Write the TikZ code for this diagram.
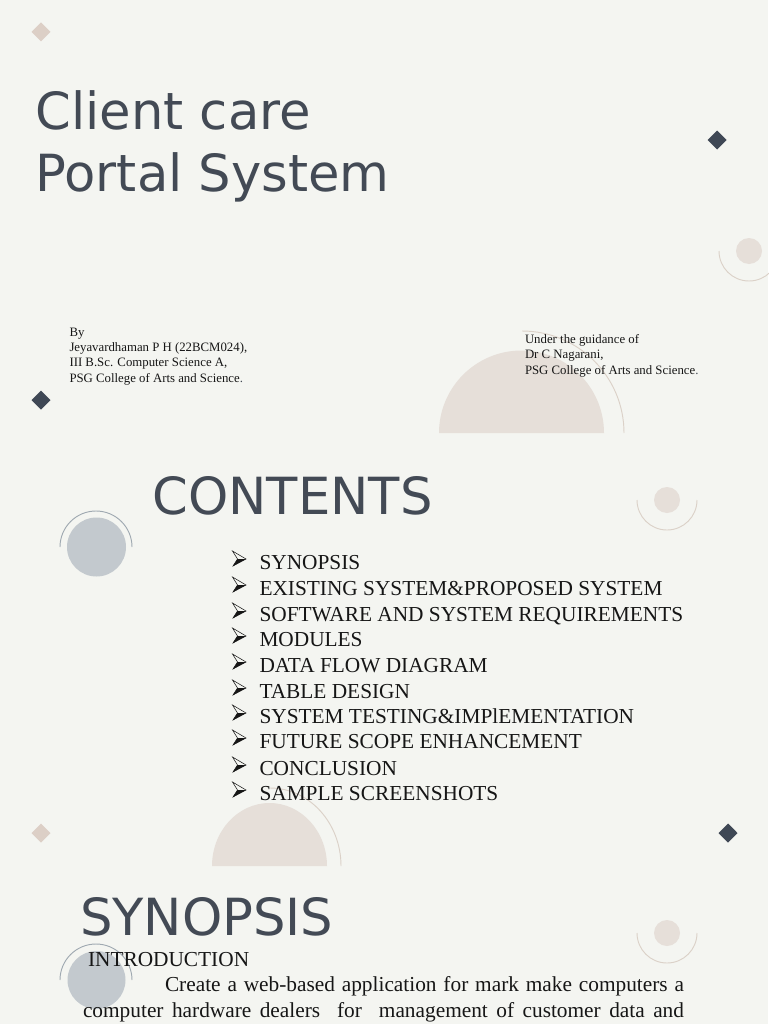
\documentclass[tikz,border=0pt]{standalone}
\usepackage{fontspec}
\setmainfont{Liberation Serif}
\newfontfamily\titlefont{DejaVu Sans}
\definecolor{bgc}{HTML}{F4F5F1}
\definecolor{ink}{HTML}{434A55}
\definecolor{beigefill}{HTML}{E6DFD9}
\definecolor{beigediamond}{HTML}{DCCFC6}
\definecolor{beigearc}{HTML}{DBD1C8}
\definecolor{darkdiamond}{HTML}{3F4855}
\definecolor{greyfill}{HTML}{C3C9CE}
\definecolor{greyarc}{HTML}{9FA9B1}
\definecolor{bodyink}{HTML}{161616}
\tikzset{
  x=0.75pt,y=-0.75pt,
  txt/.style={anchor=base west,inner sep=0pt,outer sep=0pt},
  titletxt/.style={txt,text=ink,font=\titlefont\fontsize{38.4}{38.4}\selectfont},
  smalltxt/.style={txt,text=bodyink,font=\fontsize{9.6}{11}\selectfont},
  listtxt/.style={txt,text=bodyink,font=\fontsize{16}{18}\selectfont},
  bodytxt/.style={txt,text=bodyink,font=\fontsize{16}{18}\selectfont},
  thinbeige/.style={draw=beigearc,line width=0.7pt},
  thingrey/.style={draw=greyarc,line width=0.7pt},
}
\newcommand{\diam}[3]{\fill[#3] (#1-9.5,#2) -- (#1,#2-9.5) -- (#1+9.5,#2) -- (#1,#2+9.5) -- cycle;}
\begin{document}
\begin{tikzpicture}
\useasboundingbox (0,0) rectangle (768,1024);
\fill[bgc] (0,0) rectangle (768,1024);
\diam{41}{32}{beigediamond}
\diam{717}{140}{darkdiamond}
\diam{41}{400}{darkdiamond}
\diam{41}{833}{beigediamond}
\diam{728}{833}{darkdiamond}
% decorative shapes
\fill[beigefill] (749,251) circle[radius=13];
\draw[thinbeige] (719,251) arc[start angle=180,end angle=0,radius=30];
\fill[beigefill] (439,433) arc[start angle=180,end angle=360,radius=82.5] -- cycle;
\draw[thinbeige] (522,331) arc[start angle=270,end angle=360,radius=102];
\fill[beigefill] (667,500) circle[radius=13];
\draw[thinbeige] (637,500) arc[start angle=180,end angle=0,radius=30];
\fill[greyfill] (96.5,547) circle[radius=29.5];
\draw[thingrey] (60,547) arc[start angle=180,end angle=360,radius=36];
\fill[beigefill] (212,866) arc[start angle=180,end angle=360,x radius=57.5,y radius=63] -- cycle;
\draw[thinbeige] (270,788) arc[start angle=270,end angle=360,x radius=71,y radius=78];
\fill[beigefill] (667,933) circle[radius=13];
\draw[thinbeige] (637,933) arc[start angle=180,end angle=0,radius=30];
\fill[greyfill] (96.5,980) circle[radius=29];
\draw[thingrey] (60,980) arc[start angle=180,end angle=360,radius=36];
% titles
\node[titletxt] (t1) at (35.5,129) {Client care};
\node[titletxt] (t2) at (35.5,191) {Portal System};
\node[titletxt] (t3) at (152.5,514.5) {CONTENTS};
\node[titletxt] (t4) at (80,935) {SYNOPSIS};
% by
\node[smalltxt] (by1) at (69.5,336) {By};
\node[smalltxt] (by2) at (69.5,351) {Jeyavardhaman P H (22BCM024),};
\node[smalltxt] (by3) at (69.5,366) {III B.Sc. Computer Science A,};
\node[smalltxt] (by4) at (69.5,382) {PSG College of Arts and Science\textcolor{ink}{.}};
\node[smalltxt] (g1) at (525,343) {Under the guidance of};
\node[smalltxt] (g2) at (525,358) {Dr C Nagarani,};
\node[smalltxt] (g3) at (525,374) {PSG College of Arts and Science\textcolor{ink}{.}};
% list
\foreach \yy/\lbl [count=\i] in {569/SYNOPSIS,595/EXISTING SYSTEM\&PROPOSED SYSTEM,621/SOFTWARE AND SYSTEM REQUIREMENTS,646/MODULES,672/DATA FLOW DIAGRAM,698/TABLE DESIGN,723/SYSTEM TESTING\&IMPlEMENTATION,748/FUTURE SCOPE ENHANCEMENT,775/CONCLUSION,800/SAMPLE SCREENSHOTS}{
  \node[listtxt] (li\i) at (259.5,\yy) {\lbl};
  \fill[bodyink] (246,\yy-10) -- (233,\yy-3) -- (237.5,\yy-10) -- cycle;
  \draw[bodyink,line width=0.4pt,line join=miter] (246,\yy-10) -- (232.5,\yy-18) -- (237.5,\yy-10) -- (233,\yy-3) -- cycle;
}
% body
\node[bodytxt] (intro) at (88,966) {INTRODUCTION};
\node[bodytxt] (b1) at (165,991.5) {\makebox[389.25pt][s]{Create a web-based application for mark make computers a}};
\node[bodytxt] (b2) at (83,1017) {\makebox[450.75pt][s]{computer hardware dealers\ \ for\ \ management of customer data and}};
\end{tikzpicture}
\end{document}
